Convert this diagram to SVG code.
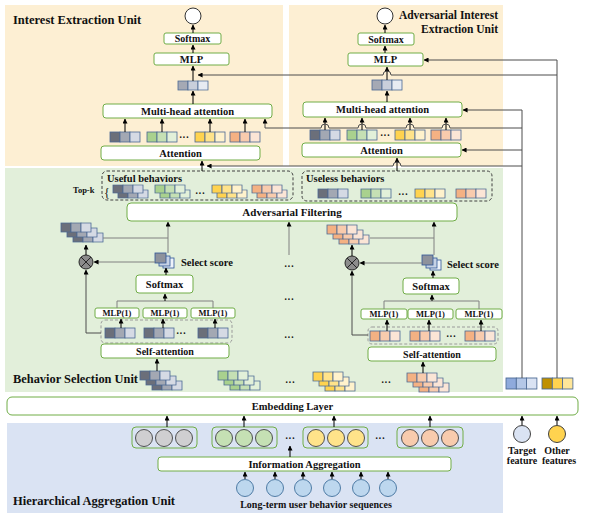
<svg xmlns="http://www.w3.org/2000/svg" width="592" height="522" viewBox="0 0 592 522">
<defs>
<style>
.t{font-family:"Liberation Serif","Times New Roman",serif;font-weight:bold;fill:#111}
.m{text-anchor:middle}
.box{fill:#fff;stroke:#70AD47;stroke-width:1}
.ln{fill:none;stroke:#4D4D4D;stroke-width:1}
.lnA{fill:none;stroke:#4D4D4D;stroke-width:1;marker-end:url(#a)}
.ar{fill:none;stroke:#000;stroke-width:1;marker-end:url(#a)}
.gl{fill:none;stroke:#808080;stroke-width:1}
.glA{fill:none;stroke:#808080;stroke-width:1;marker-end:url(#a)}
.dash{fill:none;stroke:#404040;stroke-width:1;stroke-dasharray:3 2}
.dash2{fill:none;stroke:#9A9A9A;stroke-width:1;stroke-dasharray:3 2}
.ot{fill:#8C8C8C;stroke:#262626;stroke-width:1}
</style>
<marker id="a" viewBox="0 0 6 6" refX="5.5" refY="3" markerWidth="5" markerHeight="5" orient="auto" markerUnits="userSpaceOnUse"><path d="M0,0L6,3L0,6z" fill="#000"/></marker>
<g id="vg" stroke="#4A6893" stroke-width="0.8"><rect width="10" height="10" fill="#6B6F7A"/><rect x="10" width="10" height="10" fill="#A3A8B3"/><rect x="20" width="10" height="10" fill="#D5DAE4"/></g>
<g id="vn" stroke="#4A6893" stroke-width="0.8"><rect width="10" height="10" fill="#A9D18E"/><rect x="10" width="10" height="10" fill="#C5E0B4"/><rect x="20" width="10" height="10" fill="#E2F0D9"/></g>
<g id="vy" stroke="#4A6893" stroke-width="0.8"><rect width="10" height="10" fill="#FFD34F"/><rect x="10" width="10" height="10" fill="#FFE38A"/><rect x="20" width="10" height="10" fill="#FFF2CC"/></g>
<g id="vo" stroke="#4A6893" stroke-width="0.8"><rect width="10" height="10" fill="#F4B183"/><rect x="10" width="10" height="10" fill="#F8CBAD"/><rect x="20" width="10" height="10" fill="#FBE5D6"/></g>
<g id="vl" stroke="#4A6893" stroke-width="0.8"><rect width="10" height="10" fill="#A5A9B4"/><rect x="10" width="10" height="10" fill="#C9CFDB"/><rect x="20" width="10" height="10" fill="#E7EBF2"/></g>
<g id="vb" stroke="#4A6893" stroke-width="0.8"><rect width="10" height="10" fill="#8FAADC"/><rect x="10" width="10" height="10" fill="#B4C7E7"/><rect x="20" width="10" height="10" fill="#DAE3F3"/></g>
<g id="vd" stroke="#4A6893" stroke-width="0.8"><rect width="10" height="10" fill="#BF9000"/><rect x="10" width="10" height="10" fill="#FFD34F"/><rect x="20" width="10" height="10" fill="#FFE699"/></g>
<g id="ss" stroke="#2F5597" stroke-width="0.8"><rect x="8" y="5" width="11" height="10" fill="#EEF3FA"/><rect x="4" y="3" width="11" height="10" fill="#C7D2E4"/><rect x="0" y="0" width="11" height="10" fill="#8E929C"/></g>
</defs>

<g id="panels">
<rect x="5" y="5" width="278" height="161" fill="#FDEFD3"/>
<rect x="289" y="5" width="214" height="161" fill="#FDEFD3"/>
<rect x="5" y="168" width="498" height="224" fill="#E2EFDA"/>
<rect x="7" y="423" width="496" height="90" fill="#DAE3F3"/>
<text class="t" x="13" y="24" font-size="12.5">Interest Extraction Unit</text>
<text class="t" x="498" y="19" font-size="11.5" text-anchor="end">Adversarial Interest</text>
<text class="t" x="498" y="33" font-size="11.5" text-anchor="end">Extraction Unit</text>
<text class="t" x="13" y="383" font-size="12" textLength="125" lengthAdjust="spacingAndGlyphs">Behavior Selection Unit</text>
<text class="t" x="13" y="505" font-size="12.5">Hierarchical Aggregation Unit</text>
</g>

<!-- Interest Extraction Unit -->
<g id="iu-out"><circle cx="193" cy="16" r="8" fill="#fff" stroke="#333"/></g>
<g id="iu-softmax"><rect class="box" x="164" y="33" width="57" height="11" rx="2"/><text class="t m" x="192.5" y="42" font-size="10">Softmax</text></g>
<g id="iu-mlp"><rect class="box" x="154" y="53" width="75" height="12" rx="2"/><text class="t m" x="191.5" y="62.7" font-size="10.5">MLP</text></g>
<g id="iu-vec"><use href="#vl" transform="translate(178,81) scale(1,0.9)"/></g>
<g id="iu-mha"><rect class="box" x="103" y="104" width="169" height="14" rx="3"/><text class="t m" x="187.5" y="114.6" font-size="10.5">Multi-head attention</text></g>
<g id="iu-behaviors">
<use href="#vg" x="110" y="132"/><use href="#vn" x="147" y="132"/>
<text class="t m" x="184" y="141" font-size="10">···</text>
<use href="#vy" x="195" y="132"/><use href="#vo" x="230" y="132"/>
</g>
<g id="iu-att"><rect class="box" x="101" y="146" width="159" height="14" rx="3"/><text class="t m" x="180.5" y="156.6" font-size="10.5">Attention</text></g>

<!-- Adversarial Interest Extraction Unit -->
<g id="ai-out"><circle cx="385" cy="16" r="8" fill="#fff" stroke="#333"/></g>
<g id="ai-softmax"><rect class="box" x="358" y="33" width="56" height="12" rx="2"/><text class="t m" x="386" y="42.5" font-size="10">Softmax</text></g>
<g id="ai-mlp"><rect class="box" x="348" y="53" width="75" height="13" rx="2"/><text class="t m" x="385.5" y="63.2" font-size="10.5">MLP</text></g>
<g id="ai-vec"><use href="#vl" x="372" y="80"/></g>
<g id="ai-mha"><rect class="box" x="303" y="102" width="159" height="15" rx="3"/><text class="t m" x="382.5" y="113.2" font-size="10.5">Multi-head attention</text></g>
<g id="ai-behaviors">
<use href="#vg" x="310" y="130"/><use href="#vn" x="347" y="130"/>
<text class="t m" x="385" y="139" font-size="10">···</text>
<use href="#vy" x="395" y="130"/><use href="#vo" x="431" y="130"/>
</g>
<g id="ai-att"><rect class="box" x="302" y="143" width="159" height="14" rx="3"/><text class="t m" x="381.5" y="153.6" font-size="10.5">Attention</text></g>

<!-- Behavior Selection Unit -->
<g id="useful">
<rect class="dash" x="102" y="171" width="191" height="29" rx="5"/>
<text class="t" x="107" y="182" font-size="10.5">Useful behaviors</text>
<text class="t" x="73" y="193" font-size="8.5">Top-k</text>
<text x="104" y="197" font-size="12" font-family="Liberation Serif, serif" fill="#111">{</text>
<use href="#vg" transform="translate(118,190) scale(1,0.8)"/><use href="#vg" transform="translate(113,185) scale(1,0.8)"/>
<use href="#vn" transform="translate(160,190) scale(1,0.8)"/><use href="#vn" transform="translate(155,185) scale(1,0.8)"/>
<text class="t m" x="200" y="197" font-size="10">···</text>
<use href="#vy" transform="translate(217,190) scale(1,0.8)"/><use href="#vy" transform="translate(212,185) scale(1,0.8)"/>
<use href="#vo" transform="translate(257,190) scale(1,0.8)"/><use href="#vo" transform="translate(252,185) scale(1,0.8)"/>
</g>
<g id="useless">
<rect class="dash" x="302" y="171" width="190" height="30" rx="5"/>
<text class="t" x="306" y="182" font-size="10.5">Useless behaviors</text>
<use href="#vg" transform="translate(318,189) scale(1,0.9)"/>
<use href="#vn" transform="translate(361,189) scale(1,0.9)"/>
<text class="t m" x="403" y="198" font-size="10">···</text>
<use href="#vy" transform="translate(415,189) scale(1,0.9)"/>
<use href="#vo" transform="translate(456,189) scale(1,0.9)"/>
</g>
<g id="adv-filter"><rect class="box" x="127" y="203" width="330" height="18" rx="4"/><text class="t m" x="292" y="215.8" font-size="11">Adversarial Filtering</text></g>

<g id="sel-left">
<use href="#vg" transform="translate(73,233) scale(1,0.9)"/><use href="#vg" transform="translate(67,228) scale(1,0.9)"/><use href="#vg" transform="translate(61,223) scale(1,0.9)"/>
<circle class="ot" cx="86" cy="262" r="7"/><path d="M81,257L91,267M91,257L81,267" stroke="#262626" stroke-width="1"/>
<use href="#ss" x="155" y="253"/>
<text class="t" x="181" y="266" font-size="10.5">Select score</text>
<rect class="box" x="136" y="275" width="57" height="18" rx="3"/><text class="t m" x="164.5" y="287.7" font-size="10.5">Softmax</text>
<rect class="box" x="95" y="308" width="44" height="10" rx="2"/><text class="t m" x="117" y="316.2" font-size="8.5">MLP(1)</text>
<rect class="box" x="143" y="308" width="44" height="10" rx="2"/><text class="t m" x="165" y="316.2" font-size="8.5">MLP(1)</text>
<rect class="box" x="191" y="308" width="44" height="10" rx="2"/><text class="t m" x="213" y="316.2" font-size="8.5">MLP(1)</text>
<rect class="dash2" x="101" y="320" width="131" height="23" rx="4"/>
<use href="#vg" x="105" y="328"/><use href="#vg" x="144" y="328"/>
<text class="t m" x="181" y="337" font-size="10">···</text>
<use href="#vg" x="198" y="328"/>
<rect class="box" x="101" y="344" width="128" height="14" rx="3"/><text class="t m" x="165" y="354.5" font-size="10">Self-attention</text>
</g>

<g id="sel-mid">
<text class="t m" x="289" y="270" font-size="10">···</text>
<text class="t m" x="289" y="303" font-size="10">···</text>
<text class="t m" x="289" y="341" font-size="10">···</text>
</g>

<g id="sel-right">
<use href="#vo" transform="translate(339,235) scale(1,0.9)"/><use href="#vo" transform="translate(333,230) scale(1,0.9)"/><use href="#vo" transform="translate(327,225) scale(1,0.9)"/>
<circle class="ot" cx="352" cy="263" r="7"/><path d="M347,258L357,268M357,258L347,268" stroke="#262626" stroke-width="1"/>
<use href="#ss" x="422" y="255"/>
<text class="t" x="447" y="268" font-size="10.5">Select score</text>
<rect class="box" x="403" y="278" width="56" height="16" rx="3"/><text class="t m" x="431" y="289.7" font-size="10.5">Softmax</text>
<rect class="box" x="361" y="309" width="46" height="10" rx="2"/><text class="t m" x="384" y="317.2" font-size="8.5">MLP(1)</text>
<rect class="box" x="408" y="309" width="45" height="10" rx="2"/><text class="t m" x="430.5" y="317.2" font-size="8.5">MLP(1)</text>
<rect class="box" x="456" y="309" width="46" height="10" rx="2"/><text class="t m" x="479" y="317.2" font-size="8.5">MLP(1)</text>
<rect class="dash2" x="368" y="327" width="130" height="17" rx="4"/>
<use href="#vo" x="370" y="331"/><use href="#vo" x="410" y="331"/>
<text class="t m" x="451" y="340" font-size="10">···</text>
<use href="#vo" x="465" y="331"/>
<rect class="box" x="368" y="347" width="128" height="14" rx="3"/><text class="t m" x="432" y="357.5" font-size="10">Self-attention</text>
</g>

<g id="sel-inputs">
<use href="#vg" transform="translate(152,381) scale(1,0.9)"/><use href="#vg" transform="translate(146,376) scale(1,0.9)"/><use href="#vg" transform="translate(140,371) scale(1,0.9)"/>
<use href="#vn" transform="translate(230,381) scale(1,0.9)"/><use href="#vn" transform="translate(224,376) scale(1,0.9)"/><use href="#vn" transform="translate(218,371) scale(1,0.9)"/>
<text class="t m" x="290" y="386" font-size="10">···</text>
<use href="#vy" transform="translate(325,382) scale(1,0.9)"/><use href="#vy" transform="translate(319,377) scale(1,0.9)"/><use href="#vy" transform="translate(313,372) scale(1,0.9)"/>
<text class="t m" x="386" y="386" font-size="10">···</text>
<use href="#vo" transform="translate(419,383) scale(1,0.9)"/><use href="#vo" transform="translate(413,378) scale(1,0.9)"/><use href="#vo" transform="translate(407,373) scale(1,0.9)"/>
</g>

<g id="feature-vectors">
<use href="#vb" transform="translate(506,378) scale(1.03,1.1)"/>
<use href="#vd" transform="translate(542,378) scale(1.03,1.1)"/>
</g>

<!-- Embedding and aggregation -->
<g id="embedding"><rect class="box" x="7" y="397" width="571" height="18" rx="5"/><text class="t m" x="292.5" y="409.7" font-size="10.5">Embedding Layer</text></g>

<g id="agg-groups" stroke="#404040" stroke-width="0.9">
<rect x="132" y="427" width="65" height="21" rx="4" fill="none" stroke="#70AD47" stroke-width="1"/>
<circle cx="144" cy="438" r="8.5" fill="#CFCFD1"/><circle cx="164" cy="438" r="8.5" fill="#CFCFD1"/><circle cx="184" cy="438" r="8.5" fill="#CFCFD1"/>
<rect x="212" y="427" width="65" height="21" rx="4" fill="none" stroke="#70AD47" stroke-width="1"/>
<circle cx="224" cy="438" r="8.5" fill="#C5E0B4"/><circle cx="244" cy="438" r="8.5" fill="#C5E0B4"/><circle cx="264" cy="438" r="8.5" fill="#C5E0B4"/>
<rect x="303" y="427" width="65" height="21" rx="4" fill="none" stroke="#70AD47" stroke-width="1"/>
<circle cx="316" cy="438" r="8.5" fill="#FFE38A"/><circle cx="336" cy="438" r="8.5" fill="#FFE38A"/><circle cx="356" cy="438" r="8.5" fill="#FFE38A"/>
<rect x="397" y="427" width="66" height="21" rx="4" fill="none" stroke="#70AD47" stroke-width="1"/>
<circle cx="410" cy="438" r="8.5" fill="#F8CBAD"/><circle cx="430" cy="438" r="8.5" fill="#F8CBAD"/><circle cx="450" cy="438" r="8.5" fill="#F8CBAD"/>
</g>
<text class="t m" x="290" y="442" font-size="10">···</text>
<text class="t m" x="380" y="442" font-size="10">···</text>

<g id="info-agg"><rect class="box" x="158" y="457" width="293" height="14" rx="3"/><text class="t m" x="304.5" y="467.6" font-size="10.5">Information Aggregation</text></g>

<g id="long-term" stroke="#41719C" stroke-width="0.9" fill="#BDD7EE">
<circle cx="245" cy="488" r="8.5"/><circle cx="275" cy="488" r="8.5"/><circle cx="303" cy="488" r="8.5"/>
<circle cx="332" cy="488" r="8.5"/><circle cx="361" cy="488" r="8.5"/><circle cx="388" cy="488" r="8.5"/>
</g>
<text class="t m" x="316" y="508" font-size="10">Long-term user behavior sequences</text>

<g id="target-feature"><circle cx="522" cy="434" r="8.5" fill="#DAE3F3" stroke="#404040"/><text class="t m" x="522" y="454" font-size="10">Target</text><text class="t m" x="522" y="464" font-size="10">feature</text></g>
<g id="other-features"><circle cx="557" cy="434" r="8.5" fill="#FFD34F" stroke="#404040"/><text class="t m" x="557" y="454" font-size="10">Other</text><text class="t m" x="559" y="464" font-size="10">features</text></g>

<!-- connectors -->
<g id="connectors">
<path class="ar" d="M193,33V25"/>
<path class="ar" d="M193,53V45"/>
<path class="ar" d="M193,81V66"/>
<path class="ar" d="M193,104V91"/>
<path class="ar" d="M125,132V119"/>
<path class="ar" d="M162,132V119"/>
<path class="ar" d="M210,132V119"/>
<path class="ar" d="M245,132V119"/>
<path class="ar" d="M202,171V161"/>

<path class="ar" d="M385,33V25"/>
<path class="ar" d="M385,53V46"/>
<path class="ar" d="M387,80V67"/>
<path class="ar" d="M387,102V91"/>
<path class="ar" d="M325,130V118"/>
<path class="ar" d="M362,130V118"/>
<path class="ar" d="M410,130V118"/>
<path class="ar" d="M446,130V118"/>
<path class="ar" d="M397,171V158"/>

<path class="lnA" d="M557,378V60H424"/>
<path class="lnA" d="M557,75H391A4,4 0 0 0 383,75H198"/>
<path class="lnA" d="M522,378V110H463"/>
<path class="lnA" d="M522,128H450A4,4 0 0 0 442,128H414A4,4 0 0 0 406,128H366A4,4 0 0 0 358,128H329A4,4 0 0 0 321,128H265V119"/>
<path class="lnA" d="M522,150H462"/>
<path class="lnA" d="M522,166H401A4,4 0 0 0 393,166H207"/>

<path class="gl" d="M103,238H168"/>
<path class="glA" d="M168,253V222"/>
<path class="ar" d="M86,255V245"/>
<path class="glA" d="M155,262H94"/>
<path class="ar" d="M166,275V268"/>
<path class="gl" d="M117,308V301H213V308"/>
<path class="ar" d="M165,301V294"/>
<path class="ar" d="M121,328V319"/>
<path class="ar" d="M163,328V319"/>
<path class="ar" d="M215,328V319"/>
<path class="ar" d="M157,371V359"/>
<path class="lnA" d="M101,333H86V270"/>

<path class="glA" d="M289,255V222"/>

<path class="gl" d="M370,238H434"/>
<path class="glA" d="M434,255V222"/>
<path class="ar" d="M352,256V245"/>
<path class="glA" d="M422,263H360"/>
<path class="ar" d="M433,278V271"/>
<path class="gl" d="M384,309V301H479V309"/>
<path class="ar" d="M432,301V295"/>
<path class="ar" d="M387,331V320"/>
<path class="ar" d="M429,331V320"/>
<path class="ar" d="M481,331V320"/>
<path class="ar" d="M423,373V362"/>
<path class="lnA" d="M368,335H352V271"/>

<path class="ar" d="M167,427V416"/>
<path class="ar" d="M244,427V416"/>
<path class="ar" d="M334,427V416"/>
<path class="ar" d="M430,427V416"/>
<path class="ar" d="M290,457V446"/>
<path class="ar" d="M245,479V472"/>
<path class="ar" d="M275,479V472"/>
<path class="ar" d="M303,479V472"/>
<path class="ar" d="M332,479V472"/>
<path class="ar" d="M361,479V472"/>
<path class="ar" d="M388,479V472"/>
<path class="ar" d="M522,425V416"/>
<path class="ar" d="M557,425V416"/>
</g>
</svg>
